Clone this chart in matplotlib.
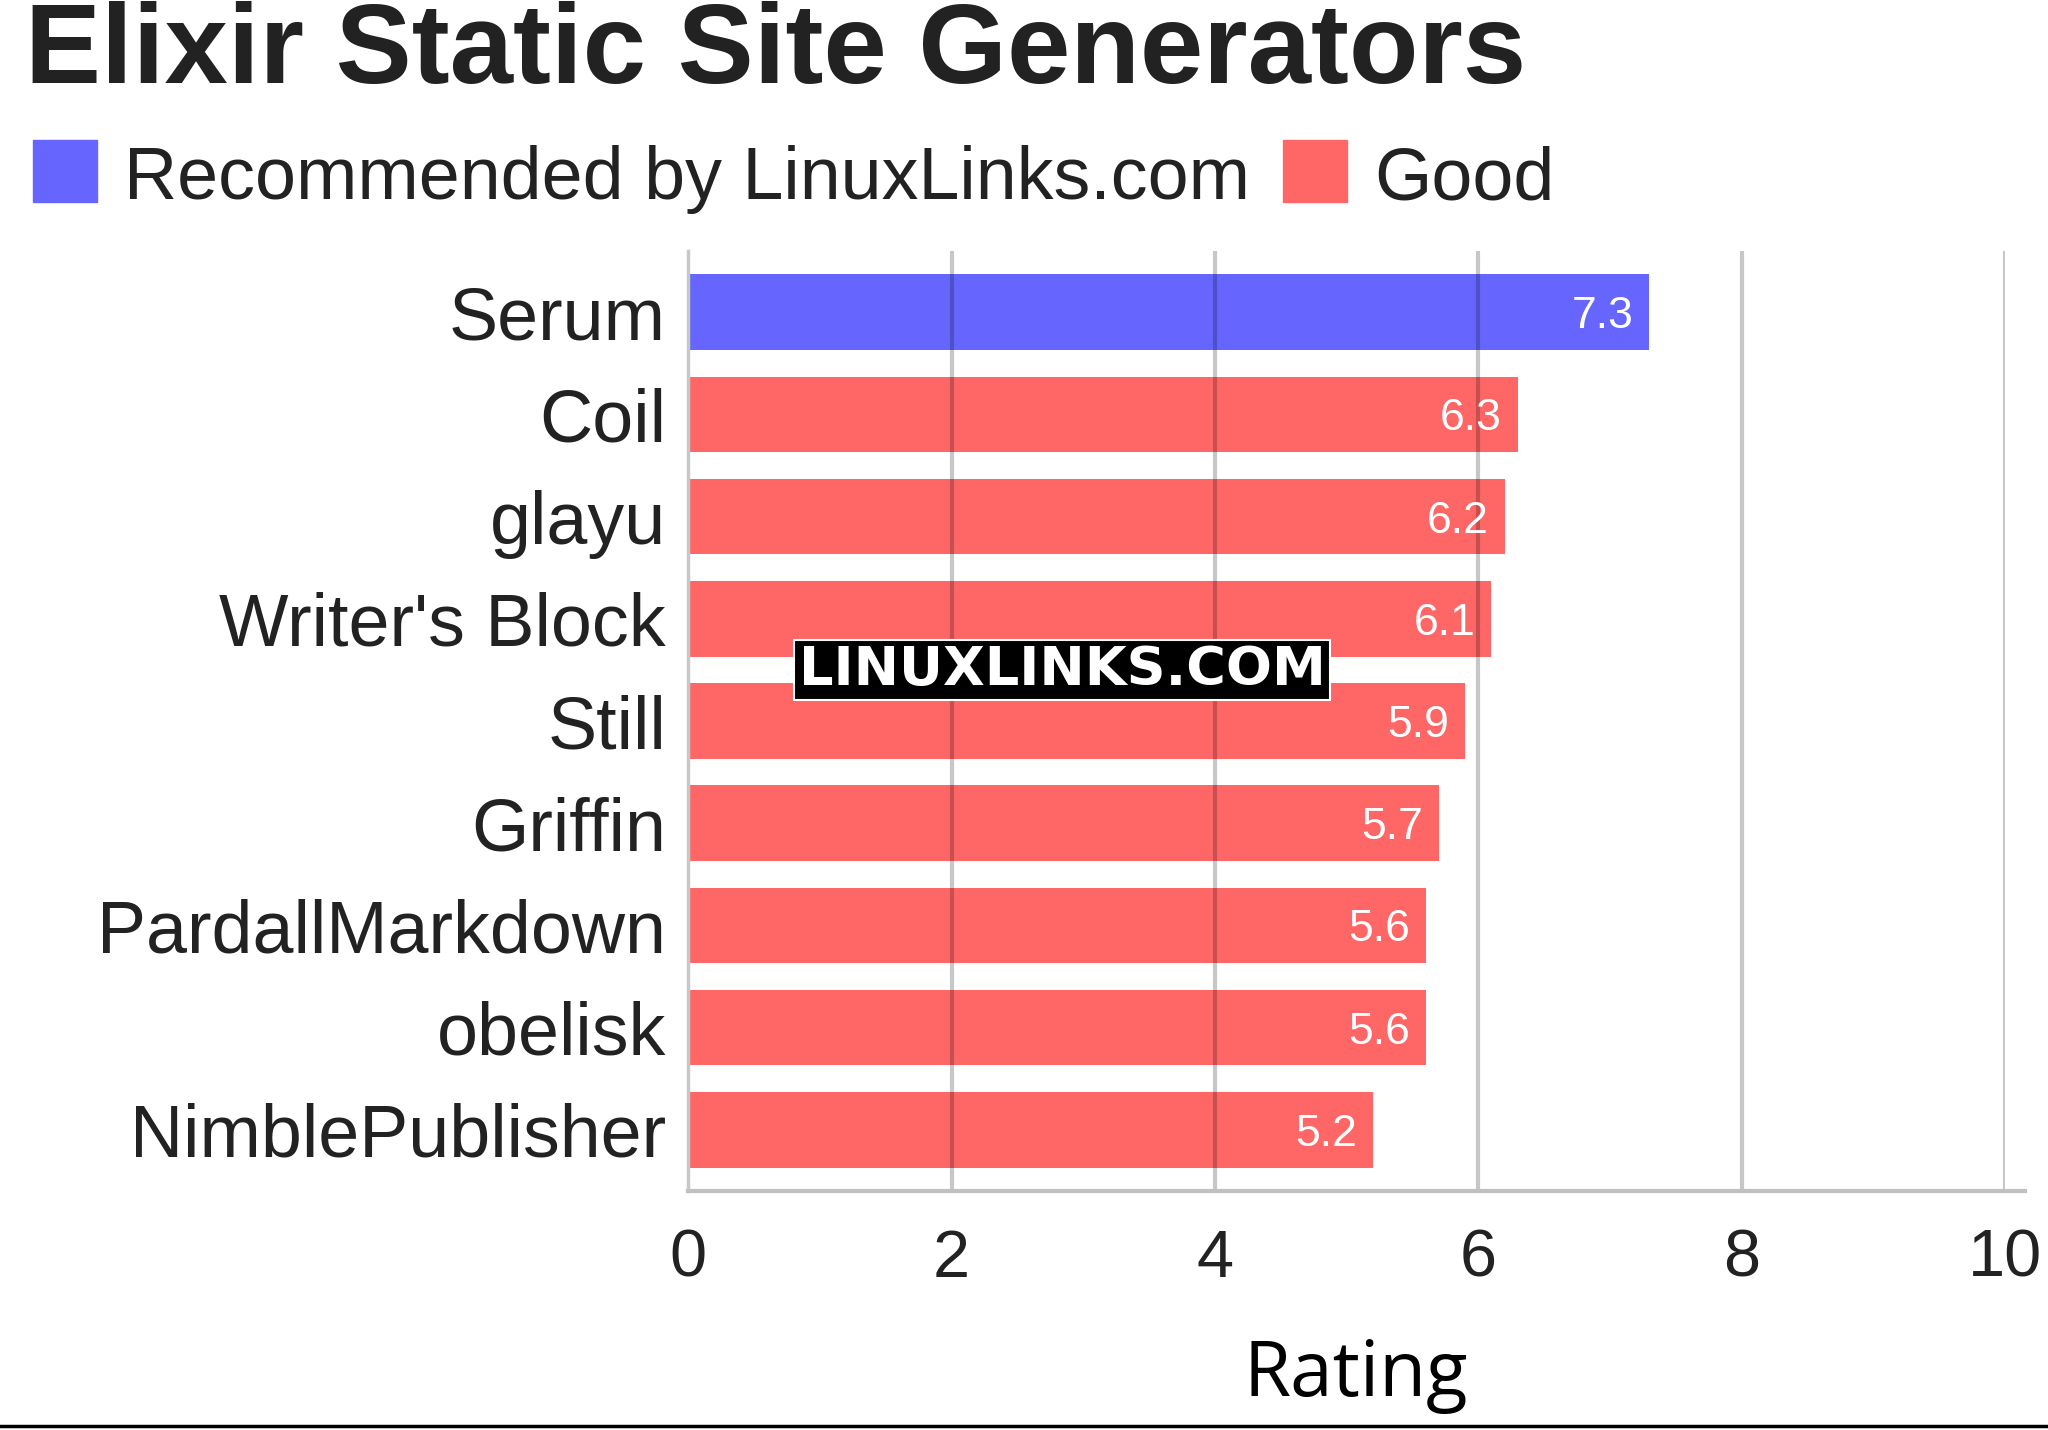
import matplotlib
matplotlib.use("Agg")
import matplotlib.pyplot as plt
from matplotlib.patches import Rectangle
from matplotlib.lines import Line2D

# data
names = ["Serum", "Coil", "glayu", "Writer's Block", "Still", "Griffin",
         "PardallMarkdown", "obelisk", "NimblePublisher"]
ratings = [7.3, 6.3, 6.2, 6.1, 5.9, 5.7, 5.6, 5.6, 5.2]
groups = ["rec", "good", "good", "good", "good", "good", "good", "good", "good"]
group_labels = {"rec": "Recommended by LinuxLinks.com", "good": "Good"}
group_colors = {"rec": "#6666ff", "good": "#ff6666"}
xticks = [0, 2, 4, 6, 8, 10]

TEXT = "#222222"
plt.rcParams['font.family'] = ['Liberation Sans', 'DejaVu Sans']

fig = plt.figure(figsize=(20.48, 14.3), dpi=100)
ax = fig.add_axes([0.336, 0.167, 0.643, 0.6575])

ypos = list(range(len(names)))
colors = [group_colors[g] for g in groups]
bars = ax.barh(ypos, ratings, height=0.74, color=colors, zorder=1)

for y, v in zip(ypos, ratings):
    ax.text(v - 0.12, y, f"{v:.1f}", ha='right', va='center_baseline',
            color='white', fontsize=32, zorder=4)

ax.set_xlim(0, 10)
ax.set_ylim(len(names) - 0.4, -0.6)
ax.set_xticks(xticks)
ax.set_xticklabels([str(t) for t in xticks], fontsize=48, color=TEXT)
ax.set_yticks(ypos)
ax.set_yticklabels(names, fontsize=53, color=TEXT)
ax.tick_params(axis='both', length=0)
ax.tick_params(axis='x', pad=27)
ax.tick_params(axis='y', pad=16)

# gridlines on top of the bars
for t in xticks:
    if t == 0:
        continue
    ax.axvline(t, color='black', alpha=0.22, lw=3, zorder=3)

for s in ['top', 'right']:
    ax.spines[s].set_visible(False)
ax.spines['left'].set_color('#c8c8c8')
ax.spines['left'].set_linewidth(2.5)
ax.spines['bottom'].set_color('#c0c0c0')
ax.spines['bottom'].set_linewidth(3)
ax.spines['bottom'].set_bounds(0, 10.15)
ax.spines['bottom'].set_zorder(5)

ax.set_xlabel("Rating", fontsize=55, color='black', family=['Open Sans', 'DejaVu Sans'],
              labelpad=34)
ax.xaxis.label.set_x(0.507)

# title
fig.text(0.012, 0.942, "Elixir Static Site Generators", fontsize=82,
         fontweight='bold', color=TEXT, va='baseline', ha='left')

# legend, drawn by hand
fig.patches.append(Rectangle((33 / 2048, 1 - 202 / 1430), 64 / 2048, 62 / 1430,
                             transform=fig.transFigure, color=group_colors["rec"]))
fig.text(124 / 2048, 1 - 199 / 1430, group_labels["rec"], fontsize=53,
         color=TEXT, va='baseline', ha='left')
fig.patches.append(Rectangle((1283 / 2048, 1 - 202 / 1430), 64 / 2048, 62 / 1430,
                             transform=fig.transFigure, color=group_colors["good"]))
fig.text(1374 / 2048, 1 - 199 / 1430, group_labels["good"], fontsize=53,
         color=TEXT, va='baseline', ha='left')

# watermark
fig.text(1062 / 2048, 1 - 670 / 1430, "LINUXLINKS.COM", fontsize=39,
         fontweight='bold', family='DejaVu Sans', color='white',
         ha='center', va='center', zorder=10,
         bbox=dict(facecolor='black', edgecolor='white', boxstyle='square,pad=0.08', lw=1.5))

# bottom rule
fig.add_artist(Line2D([0, 1], [0.003, 0.003], transform=fig.transFigure,
                      color='black', lw=2.5))

fig.savefig("out.png", dpi=100)
